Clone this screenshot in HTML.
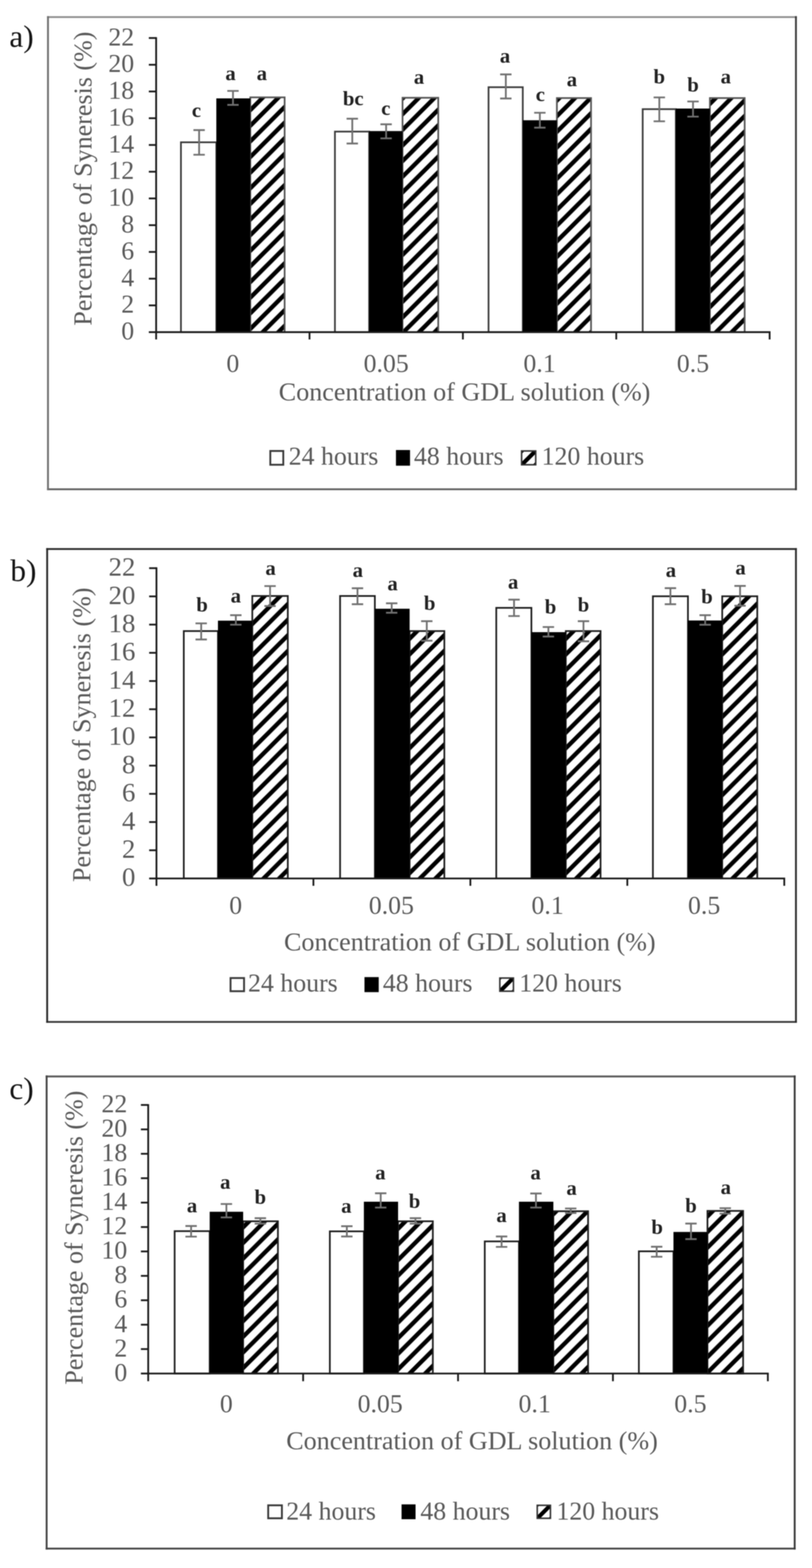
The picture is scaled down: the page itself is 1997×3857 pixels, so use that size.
<!DOCTYPE html>
<html><head><meta charset="utf-8"><title>Percentage of Syneresis</title>
<style>html,body{margin:0;padding:0;background:#fff;}body{width:1997px;height:3857px;overflow:hidden;}svg{display:block;filter:blur(0.9px);}text{font-family:"Liberation Serif","Times New Roman",serif;}.t{fill:#595959;font-size:63.5px;}.l{fill:#222;font-size:51px;font-weight:bold;}.p{fill:#141414;font-size:77px;}</style></head><body>
<svg width="1997" height="3857" viewBox="0 0 1997 3857">
<defs>
<pattern id="h0" patternUnits="userSpaceOnUse" x="2" y="0" width="38.45" height="38.45">
<rect width="38.45" height="38.45" fill="#fff"/>
<path d="M-38.45,38.45 L38.45,-38.45 M0,76.9 L76.9,0 M0,38.45 L38.45,0" stroke="#000" stroke-width="10.60"/>
</pattern>
<pattern id="h1" patternUnits="userSpaceOnUse" x="2.2" y="0" width="38.45" height="38.45">
<rect width="38.45" height="38.45" fill="#fff"/>
<path d="M-38.45,38.45 L38.45,-38.45 M0,76.9 L76.9,0 M0,38.45 L38.45,0" stroke="#000" stroke-width="10.60"/>
</pattern>
<pattern id="h2" patternUnits="userSpaceOnUse" x="2.6" y="0" width="38.45" height="38.45">
<rect width="38.45" height="38.45" fill="#fff"/>
<path d="M-38.45,38.45 L38.45,-38.45 M0,76.9 L76.9,0 M0,38.45 L38.45,0" stroke="#000" stroke-width="10.60"/>
</pattern>
</defs>
<rect width="1997" height="3857" fill="#fff"/>
<g stroke-width="4.6" stroke-linecap="square" fill="none">
<line x1="118" y1="42" x2="1957.5" y2="42" stroke="#8e8e8e"/>
<line x1="118" y1="1203.5" x2="1957.5" y2="1203.5" stroke="#5f5f5f"/>
<line x1="118" y1="42" x2="118" y2="1203.5" stroke="#6f6f6f"/>
<line x1="1957.5" y1="42" x2="1957.5" y2="1203.5" stroke="#3c3c3c"/>
</g>
<text class="p" x="23" y="115">a)</text>
<rect x="445" y="350" width="87" height="467" fill="#fff" stroke="#3a3a3a" stroke-width="4.2"/>
<rect x="615.6" y="239.5" width="84.4" height="577.5" fill="url(#h0)" stroke="#555555" stroke-width="4.2"/>
<rect x="532" y="242" width="83.6" height="575" fill="#000"/>
<rect x="823.7" y="323.7" width="84.1" height="493.3" fill="#fff" stroke="#3a3a3a" stroke-width="4.2"/>
<rect x="990" y="240.5" width="87.8" height="576.5" fill="url(#h0)" stroke="#555555" stroke-width="4.2"/>
<rect x="907.8" y="322.4" width="82.2" height="494.6" fill="#000"/>
<rect x="1201.5" y="214.5" width="84.2" height="602.5" fill="#fff" stroke="#3a3a3a" stroke-width="4.2"/>
<rect x="1369.6" y="241.2" width="84" height="575.8" fill="url(#h0)" stroke="#555555" stroke-width="4.2"/>
<rect x="1285.7" y="295.8" width="83.9" height="521.2" fill="#000"/>
<rect x="1580.6" y="268.5" width="81.4" height="548.5" fill="#fff" stroke="#3a3a3a" stroke-width="4.2"/>
<rect x="1745.9" y="241.2" width="85.5" height="575.8" fill="url(#h0)" stroke="#555555" stroke-width="4.2"/>
<rect x="1662" y="267" width="83.9" height="550" fill="#000"/>
<g stroke="#707070" stroke-width="4.4" fill="none">
<path d="M489.7,320V380.6M475.7,320h28M475.7,380.6h28"/>
<path d="M573,223.6V258M559,223.6h28M559,258h28"/>
<path d="M866.4,292V353M852.4,292h28M852.4,353h28"/>
<path d="M949.6,305.8V340.4M935.6,305.8h28M935.6,340.4h28"/>
<path d="M1244,183V242.3M1230,183h28M1230,242.3h28"/>
<path d="M1327.7,277.4V314M1313.7,277.4h28M1313.7,314h28"/>
<path d="M1621.5,239.6V298.4M1607.5,239.6h28M1607.5,298.4h28"/>
<path d="M1704.4,249.6V286.9M1690.4,249.6h28M1690.4,286.9h28"/>
</g>
<g stroke="#1a1a1a" stroke-width="4.4" fill="none" stroke-linecap="square">
<line x1="384" y1="91.5" x2="384" y2="835" stroke-linecap="butt"/>
<line x1="384" y1="817" x2="1892.8" y2="817"/>
<line x1="366" y1="817" x2="384" y2="817" stroke-linecap="butt"/>
<line x1="366" y1="751.2" x2="384" y2="751.2" stroke-linecap="butt"/>
<line x1="366" y1="685.5" x2="384" y2="685.5" stroke-linecap="butt"/>
<line x1="366" y1="619.7" x2="384" y2="619.7" stroke-linecap="butt"/>
<line x1="366" y1="553.9" x2="384" y2="553.9" stroke-linecap="butt"/>
<line x1="366" y1="488.1" x2="384" y2="488.1" stroke-linecap="butt"/>
<line x1="366" y1="422.4" x2="384" y2="422.4" stroke-linecap="butt"/>
<line x1="366" y1="356.6" x2="384" y2="356.6" stroke-linecap="butt"/>
<line x1="366" y1="290.8" x2="384" y2="290.8" stroke-linecap="butt"/>
<line x1="366" y1="225" x2="384" y2="225" stroke-linecap="butt"/>
<line x1="366" y1="159.3" x2="384" y2="159.3" stroke-linecap="butt"/>
<line x1="366" y1="93.5" x2="384" y2="93.5" stroke-linecap="butt"/>
<line x1="761.2" y1="817" x2="761.2" y2="835" stroke-linecap="butt"/>
<line x1="1138.4" y1="817" x2="1138.4" y2="835" stroke-linecap="butt"/>
<line x1="1515.6" y1="817" x2="1515.6" y2="835" stroke-linecap="butt"/>
<line x1="1892.8" y1="817" x2="1892.8" y2="835" stroke-linecap="butt"/>
</g>
<text class="t" x="330" y="835" text-anchor="end">0</text>
<text class="t" x="330" y="769.2" text-anchor="end">2</text>
<text class="t" x="330" y="703.5" text-anchor="end">4</text>
<text class="t" x="330" y="637.7" text-anchor="end">6</text>
<text class="t" x="330" y="571.9" text-anchor="end">8</text>
<text class="t" x="330" y="506.1" text-anchor="end">10</text>
<text class="t" x="330" y="440.4" text-anchor="end">12</text>
<text class="t" x="330" y="374.6" text-anchor="end">14</text>
<text class="t" x="330" y="308.8" text-anchor="end">16</text>
<text class="t" x="330" y="243" text-anchor="end">18</text>
<text class="t" x="330" y="177.3" text-anchor="end">20</text>
<text class="t" x="330" y="111.5" text-anchor="end">22</text>
<text class="t" x="572.6" y="915.4" text-anchor="middle">0</text>
<text class="t" x="949.8" y="915.4" text-anchor="middle">0.05</text>
<text class="t" x="1327" y="915.4" text-anchor="middle">0.1</text>
<text class="t" x="1704.2" y="915.4" text-anchor="middle">0.5</text>
<text class="t" x="685.6" y="984.6" style="font-size:64.2px">Concentration of GDL solution (%)</text>
<text class="t" transform="translate(225,801) rotate(-90)" x="0" y="0" style="font-size:64px">Percentage of Syneresis (%)</text>
<text class="l" x="483" y="288.4" text-anchor="middle">c</text>
<text class="l" x="567" y="197.3" text-anchor="middle">a</text>
<text class="l" x="644" y="197.3" text-anchor="middle">a</text>
<text class="l" x="868.7" y="259.4" text-anchor="middle">bc</text>
<text class="l" x="948.7" y="282.8" text-anchor="middle">c</text>
<text class="l" x="1030.6" y="206.4" text-anchor="middle">a</text>
<text class="l" x="1242" y="153.7" text-anchor="middle">a</text>
<text class="l" x="1328.7" y="248.6" text-anchor="middle">c</text>
<text class="l" x="1406.4" y="211.8" text-anchor="middle">a</text>
<text class="l" x="1621.5" y="205" text-anchor="middle">b</text>
<text class="l" x="1704.4" y="225" text-anchor="middle">b</text>
<text class="l" x="1785" y="205" text-anchor="middle">a</text>
<rect x="664.8" y="1109.3" width="31.9" height="33.9" fill="#fff" stroke="#3a3a3a" stroke-width="4.6"/>
<text class="t" x="710" y="1143">24 hours</text>
<rect x="976.1" y="1109.3" width="30" height="33.9" fill="#000" stroke="#000" stroke-width="4.6"/>
<text class="t" x="1018" y="1143">48 hours</text>
<clipPath id="lc0"><rect x="1282.8" y="1109.3" width="34.7" height="33.9"/></clipPath>
<rect x="1282.8" y="1109.3" width="34.7" height="33.9" fill="#fff"/>
<g clip-path="url(#lc0)" stroke="#000" stroke-width="10">
<line x1="1240.2" y1="1152.2" x2="1360.2" y2="1032.2"/>
<line x1="1240.2" y1="1186.2" x2="1360.2" y2="1066.2"/>
<line x1="1240.2" y1="1220.2" x2="1360.2" y2="1100.2"/>
</g>
<rect x="1282.8" y="1109.3" width="34.7" height="33.9" fill="none" stroke="#333" stroke-width="3.8"/>
<text class="t" x="1332" y="1143">120 hours</text>
<g stroke-width="4.6" stroke-linecap="square" fill="none">
<line x1="116" y1="1350.5" x2="1957.5" y2="1350.5" stroke="#2a2a2a"/>
<line x1="116" y1="2513.7" x2="1957.5" y2="2513.7" stroke="#3a3a3a"/>
<line x1="116" y1="1350.5" x2="116" y2="2513.7" stroke="#2a2a2a"/>
<line x1="1957.5" y1="1350.5" x2="1957.5" y2="2513.7" stroke="#2e2e2e"/>
</g>
<text class="p" x="25.5" y="1428.5">b)</text>
<rect x="452" y="1552.3" width="84" height="608.6" fill="#fff" stroke="#1e1e1e" stroke-width="4.2"/>
<rect x="620.5" y="1466" width="87.3" height="694.9" fill="url(#h1)" stroke="#1e1e1e" stroke-width="4.2"/>
<rect x="536" y="1526.7" width="84.5" height="634.2" fill="#000"/>
<rect x="836.4" y="1466" width="85.5" height="694.9" fill="#fff" stroke="#1e1e1e" stroke-width="4.2"/>
<rect x="1007.4" y="1552.3" width="85.4" height="608.6" fill="url(#h1)" stroke="#1e1e1e" stroke-width="4.2"/>
<rect x="921.9" y="1497.4" width="85.5" height="663.5" fill="#000"/>
<rect x="1220.5" y="1495.2" width="86.4" height="665.7" fill="#fff" stroke="#1e1e1e" stroke-width="4.2"/>
<rect x="1391.5" y="1552.3" width="85.5" height="608.6" fill="url(#h1)" stroke="#1e1e1e" stroke-width="4.2"/>
<rect x="1306.9" y="1555" width="84.6" height="605.9" fill="#000"/>
<rect x="1605.7" y="1466.7" width="86.2" height="694.2" fill="#fff" stroke="#1e1e1e" stroke-width="4.2"/>
<rect x="1776.2" y="1466.7" width="86.2" height="694.2" fill="url(#h1)" stroke="#1e1e1e" stroke-width="4.2"/>
<rect x="1691.9" y="1526.3" width="84.3" height="634.6" fill="#000"/>
<g stroke="#707070" stroke-width="4.4" fill="none">
<path d="M494.8,1533.4V1573M480.8,1533.4h28M480.8,1573h28"/>
<path d="M580,1513.2V1536.6M566,1513.2h28M566,1536.6h28"/>
<path d="M664.2,1441.6V1490.7M650.2,1441.6h28M650.2,1490.7h28"/>
<path d="M879.2,1447V1486.2M865.2,1447h28M865.2,1486.2h28"/>
<path d="M963.3,1484V1507.3M949.3,1484h28M949.3,1507.3h28"/>
<path d="M1049.6,1528V1576M1035.6,1528h28M1035.6,1576h28"/>
<path d="M1264.2,1475V1515.4M1250.2,1475h28M1250.2,1515.4h28"/>
<path d="M1348.7,1542.4V1565.8M1334.7,1542.4h28M1334.7,1565.8h28"/>
<path d="M1435,1528V1577.5M1421,1528h28M1421,1577.5h28"/>
<path d="M1648.8,1446.8V1486.2M1634.8,1446.8h28M1634.8,1486.2h28"/>
<path d="M1734.3,1513.2V1536.8M1720.3,1513.2h28M1720.3,1536.8h28"/>
<path d="M1820.1,1441.2V1490M1806.1,1441.2h28M1806.1,1490h28"/>
</g>
<g stroke="#1a1a1a" stroke-width="4.4" fill="none" stroke-linecap="square">
<line x1="384.8" y1="1395.6" x2="384.8" y2="2178.9" stroke-linecap="butt"/>
<line x1="384.8" y1="2160.9" x2="1928.8" y2="2160.9"/>
<line x1="366.8" y1="2160.9" x2="384.8" y2="2160.9" stroke-linecap="butt"/>
<line x1="366.8" y1="2091.5" x2="384.8" y2="2091.5" stroke-linecap="butt"/>
<line x1="366.8" y1="2022.1" x2="384.8" y2="2022.1" stroke-linecap="butt"/>
<line x1="366.8" y1="1952.7" x2="384.8" y2="1952.7" stroke-linecap="butt"/>
<line x1="366.8" y1="1883.3" x2="384.8" y2="1883.3" stroke-linecap="butt"/>
<line x1="366.8" y1="1813.9" x2="384.8" y2="1813.9" stroke-linecap="butt"/>
<line x1="366.8" y1="1744.6" x2="384.8" y2="1744.6" stroke-linecap="butt"/>
<line x1="366.8" y1="1675.2" x2="384.8" y2="1675.2" stroke-linecap="butt"/>
<line x1="366.8" y1="1605.8" x2="384.8" y2="1605.8" stroke-linecap="butt"/>
<line x1="366.8" y1="1536.4" x2="384.8" y2="1536.4" stroke-linecap="butt"/>
<line x1="366.8" y1="1467" x2="384.8" y2="1467" stroke-linecap="butt"/>
<line x1="366.8" y1="1397.6" x2="384.8" y2="1397.6" stroke-linecap="butt"/>
<line x1="770.8" y1="2160.9" x2="770.8" y2="2178.9" stroke-linecap="butt"/>
<line x1="1156.8" y1="2160.9" x2="1156.8" y2="2178.9" stroke-linecap="butt"/>
<line x1="1542.8" y1="2160.9" x2="1542.8" y2="2178.9" stroke-linecap="butt"/>
<line x1="1928.8" y1="2160.9" x2="1928.8" y2="2178.9" stroke-linecap="butt"/>
</g>
<text class="t" x="333" y="2179.4" text-anchor="end" style="font-size:66px">0</text>
<text class="t" x="333" y="2110" text-anchor="end" style="font-size:66px">2</text>
<text class="t" x="333" y="2040.6" text-anchor="end" style="font-size:66px">4</text>
<text class="t" x="333" y="1971.2" text-anchor="end" style="font-size:66px">6</text>
<text class="t" x="333" y="1901.8" text-anchor="end" style="font-size:66px">8</text>
<text class="t" x="333" y="1832.4" text-anchor="end" style="font-size:66px">10</text>
<text class="t" x="333" y="1763.1" text-anchor="end" style="font-size:66px">12</text>
<text class="t" x="333" y="1693.7" text-anchor="end" style="font-size:66px">14</text>
<text class="t" x="333" y="1624.3" text-anchor="end" style="font-size:66px">16</text>
<text class="t" x="333" y="1554.9" text-anchor="end" style="font-size:66px">18</text>
<text class="t" x="333" y="1485.5" text-anchor="end" style="font-size:66px">20</text>
<text class="t" x="333" y="1416.1" text-anchor="end" style="font-size:66px">22</text>
<text class="t" x="579.5" y="2247.6" text-anchor="middle">0</text>
<text class="t" x="962.5" y="2247.6" text-anchor="middle">0.05</text>
<text class="t" x="1346.7" y="2247.6" text-anchor="middle">0.1</text>
<text class="t" x="1731.7" y="2247.6" text-anchor="middle">0.5</text>
<text class="t" x="698.5" y="2338.4" style="font-size:64.2px">Concentration of GDL solution (%)</text>
<text class="t" transform="translate(222,2169.6) rotate(-90)" x="0" y="0" style="font-size:64.1px">Percentage of Syneresis (%)</text>
<text class="l" x="497" y="1504.2" text-anchor="middle">b</text>
<text class="l" x="580" y="1481.7" text-anchor="middle">a</text>
<text class="l" x="665.5" y="1414.2" text-anchor="middle">a</text>
<text class="l" x="880" y="1418.7" text-anchor="middle">a</text>
<text class="l" x="965.5" y="1451.5" text-anchor="middle">a</text>
<text class="l" x="1056.8" y="1499.7" text-anchor="middle">b</text>
<text class="l" x="1262" y="1448" text-anchor="middle">a</text>
<text class="l" x="1354" y="1508.7" text-anchor="middle">b</text>
<text class="l" x="1435" y="1504.2" text-anchor="middle">b</text>
<text class="l" x="1649.9" y="1418.7" text-anchor="middle">a</text>
<text class="l" x="1738.7" y="1484.3" text-anchor="middle">b</text>
<text class="l" x="1821.2" y="1413" text-anchor="middle">a</text>
<rect x="567" y="2405.8" width="33.2" height="32.4" fill="#fff" stroke="#3a3a3a" stroke-width="4.6"/>
<text class="t" x="610" y="2439">24 hours</text>
<rect x="898.7" y="2405.8" width="30.4" height="32.4" fill="#000" stroke="#000" stroke-width="4.6"/>
<text class="t" x="941.6" y="2439">48 hours</text>
<clipPath id="lc1"><rect x="1229.3" y="2405.8" width="33.4" height="32.4"/></clipPath>
<rect x="1229.3" y="2405.8" width="33.4" height="32.4" fill="#fff"/>
<g clip-path="url(#lc1)" stroke="#000" stroke-width="10">
<line x1="1186" y1="2448" x2="1306" y2="2328"/>
<line x1="1186" y1="2482" x2="1306" y2="2362"/>
<line x1="1186" y1="2516" x2="1306" y2="2396"/>
</g>
<rect x="1229.3" y="2405.8" width="33.4" height="32.4" fill="none" stroke="#333" stroke-width="3.8"/>
<text class="t" x="1277" y="2439">120 hours</text>
<g stroke-width="4.6" stroke-linecap="square" fill="none">
<line x1="114.7" y1="2647.9" x2="1954.4" y2="2647.9" stroke="#5a5a5a"/>
<line x1="114.7" y1="3809.2" x2="1954.4" y2="3809.2" stroke="#454545"/>
<line x1="114.7" y1="2647.9" x2="114.7" y2="3809.2" stroke="#444444"/>
<line x1="1954.4" y1="2647.9" x2="1954.4" y2="3809.2" stroke="#3a3a3a"/>
</g>
<text class="p" x="23" y="2703">c)</text>
<rect x="429.5" y="3028.4" width="86.2" height="350.2" fill="#fff" stroke="#1e1e1e" stroke-width="4.2"/>
<rect x="598" y="3004.1" width="85.5" height="374.5" fill="url(#h2)" stroke="#1e1e1e" stroke-width="4.2"/>
<rect x="515.7" y="2980.7" width="82.3" height="397.9" fill="#000"/>
<rect x="811.2" y="3028.9" width="83.7" height="349.7" fill="#fff" stroke="#1e1e1e" stroke-width="4.2"/>
<rect x="979" y="3004.1" width="85.5" height="374.5" fill="url(#h2)" stroke="#1e1e1e" stroke-width="4.2"/>
<rect x="894.9" y="2956" width="84.1" height="422.6" fill="#000"/>
<rect x="1192.2" y="3053.6" width="84.1" height="325" fill="#fff" stroke="#1e1e1e" stroke-width="4.2"/>
<rect x="1360.9" y="2979.4" width="85.4" height="399.2" fill="url(#h2)" stroke="#1e1e1e" stroke-width="4.2"/>
<rect x="1276.3" y="2956" width="84.6" height="422.6" fill="#000"/>
<rect x="1571.2" y="3078" width="85.1" height="300.6" fill="#fff" stroke="#1e1e1e" stroke-width="4.2"/>
<rect x="1739.9" y="2978.6" width="87.7" height="400" fill="url(#h2)" stroke="#1e1e1e" stroke-width="4.2"/>
<rect x="1656.3" y="3030.4" width="83.6" height="348.2" fill="#000"/>
<g stroke="#707070" stroke-width="4.4" fill="none">
<path d="M470,3015.8V3041.9M456,3015.8h28M456,3041.9h28"/>
<path d="M556.8,2961.6V2994.6M542.8,2961.6h28M542.8,2994.6h28"/>
<path d="M640.3,2996.5V3010M626.3,2996.5h28M626.3,3010h28"/>
<path d="M853,3016.3V3041.5M839,3016.3h28M839,3041.5h28"/>
<path d="M936.3,2935.3V2970.4M922.3,2935.3h28M922.3,2970.4h28"/>
<path d="M1021.7,2996.5V3010M1007.7,2996.5h28M1007.7,3010h28"/>
<path d="M1233.6,3041.5V3067.1M1219.6,3041.5h28M1219.6,3067.1h28"/>
<path d="M1318.1,2935.8V2970.4M1304.1,2935.8h28M1304.1,2970.4h28"/>
<path d="M1403.6,2972.6V2983.9M1389.6,2972.6h28M1389.6,2983.9h28"/>
<path d="M1615,3066.7V3091.4M1601,3066.7h28M1601,3091.4h28"/>
<path d="M1699.4,3009.7V3048M1685.4,3009.7h28M1685.4,3048h28"/>
<path d="M1783.7,2971.9V2985.4M1769.7,2971.9h28M1769.7,2985.4h28"/>
</g>
<g stroke="#1a1a1a" stroke-width="4.4" fill="none" stroke-linecap="square">
<line x1="364.5" y1="2716" x2="364.5" y2="3397.6" stroke-linecap="butt"/>
<line x1="364.5" y1="3378.6" x2="1888.4" y2="3378.6"/>
<line x1="346.5" y1="3378.6" x2="364.5" y2="3378.6" stroke-linecap="butt"/>
<line x1="346.5" y1="3318.5" x2="364.5" y2="3318.5" stroke-linecap="butt"/>
<line x1="346.5" y1="3258.5" x2="364.5" y2="3258.5" stroke-linecap="butt"/>
<line x1="346.5" y1="3198.4" x2="364.5" y2="3198.4" stroke-linecap="butt"/>
<line x1="346.5" y1="3138.4" x2="364.5" y2="3138.4" stroke-linecap="butt"/>
<line x1="346.5" y1="3078.3" x2="364.5" y2="3078.3" stroke-linecap="butt"/>
<line x1="346.5" y1="3018.3" x2="364.5" y2="3018.3" stroke-linecap="butt"/>
<line x1="346.5" y1="2958.2" x2="364.5" y2="2958.2" stroke-linecap="butt"/>
<line x1="346.5" y1="2898.2" x2="364.5" y2="2898.2" stroke-linecap="butt"/>
<line x1="346.5" y1="2838.1" x2="364.5" y2="2838.1" stroke-linecap="butt"/>
<line x1="346.5" y1="2778.1" x2="364.5" y2="2778.1" stroke-linecap="butt"/>
<line x1="346.5" y1="2718" x2="364.5" y2="2718" stroke-linecap="butt"/>
<line x1="745.5" y1="3378.6" x2="745.5" y2="3397.6" stroke-linecap="butt"/>
<line x1="1126.5" y1="3378.6" x2="1126.5" y2="3397.6" stroke-linecap="butt"/>
<line x1="1507.4" y1="3378.6" x2="1507.4" y2="3397.6" stroke-linecap="butt"/>
<line x1="1888.4" y1="3378.6" x2="1888.4" y2="3397.6" stroke-linecap="butt"/>
</g>
<text class="t" x="313" y="3396.6" text-anchor="end">0</text>
<text class="t" x="313" y="3336.5" text-anchor="end">2</text>
<text class="t" x="313" y="3276.5" text-anchor="end">4</text>
<text class="t" x="313" y="3216.4" text-anchor="end">6</text>
<text class="t" x="313" y="3156.4" text-anchor="end">8</text>
<text class="t" x="313" y="3096.3" text-anchor="end">10</text>
<text class="t" x="313" y="3036.3" text-anchor="end">12</text>
<text class="t" x="313" y="2976.2" text-anchor="end">14</text>
<text class="t" x="313" y="2916.2" text-anchor="end">16</text>
<text class="t" x="313" y="2856.1" text-anchor="end">18</text>
<text class="t" x="313" y="2796.1" text-anchor="end">20</text>
<text class="t" x="313" y="2736" text-anchor="end">22</text>
<text class="t" x="556.5" y="3473.5" text-anchor="middle">0</text>
<text class="t" x="935" y="3473.5" text-anchor="middle">0.05</text>
<text class="t" x="1315" y="3473.5" text-anchor="middle">0.1</text>
<text class="t" x="1698" y="3473.5" text-anchor="middle">0.5</text>
<text class="t" x="703.9" y="3564.5" style="font-size:64.2px">Concentration of GDL solution (%)</text>
<text class="t" transform="translate(203,3406) rotate(-90)" x="0" y="0" style="font-size:64px">Percentage of Syneresis (%)</text>
<text class="l" x="472.3" y="2982" text-anchor="middle">a</text>
<text class="l" x="554" y="2923.5" text-anchor="middle">a</text>
<text class="l" x="640.3" y="2960.5" text-anchor="middle">b</text>
<text class="l" x="851.7" y="2983" text-anchor="middle">a</text>
<text class="l" x="935.4" y="2900.7" text-anchor="middle">a</text>
<text class="l" x="1019.5" y="2971.3" text-anchor="middle">b</text>
<text class="l" x="1233.6" y="3006.4" text-anchor="middle">a</text>
<text class="l" x="1317.2" y="2900.7" text-anchor="middle">a</text>
<text class="l" x="1405.8" y="2938.9" text-anchor="middle">a</text>
<text class="l" x="1616.2" y="3035" text-anchor="middle">b</text>
<text class="l" x="1699.4" y="2982.4" text-anchor="middle">b</text>
<text class="l" x="1784.9" y="2937.4" text-anchor="middle">a</text>
<rect x="659.6" y="3702.8" width="33.7" height="31.9" fill="#fff" stroke="#3a3a3a" stroke-width="4.6"/>
<text class="t" x="704" y="3737.5">24 hours</text>
<rect x="989.9" y="3702.8" width="29.8" height="31.9" fill="#000" stroke="#000" stroke-width="4.6"/>
<text class="t" x="1033.8" y="3737.5">48 hours</text>
<clipPath id="lc2"><rect x="1321.3" y="3702.8" width="32.4" height="31.9"/></clipPath>
<rect x="1321.3" y="3702.8" width="32.4" height="31.9" fill="#fff"/>
<g clip-path="url(#lc2)" stroke="#000" stroke-width="10">
<line x1="1277.5" y1="3744.8" x2="1397.5" y2="3624.8"/>
<line x1="1277.5" y1="3778.8" x2="1397.5" y2="3658.8"/>
<line x1="1277.5" y1="3812.8" x2="1397.5" y2="3692.8"/>
</g>
<rect x="1321.3" y="3702.8" width="32.4" height="31.9" fill="none" stroke="#333" stroke-width="3.8"/>
<text class="t" x="1368.4" y="3737.5">120 hours</text>
</svg></body></html>
